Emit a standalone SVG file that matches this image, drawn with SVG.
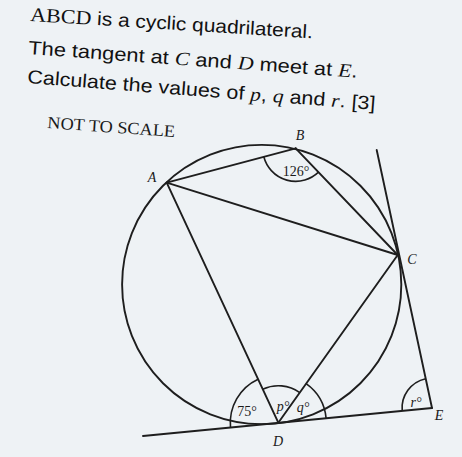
<svg xmlns="http://www.w3.org/2000/svg" width="462" height="457" viewBox="0 0 462 457">
<style>
.body{font-family:"Liberation Sans","Noto Sans",sans-serif;font-size:19px;fill:#111}
.it{font-family:"Liberation Serif",serif;font-style:italic}
.lbl{font-family:"Liberation Serif",serif;font-style:italic;font-size:14px;fill:#1a1a1a;text-anchor:middle}
.ang{font-family:"Liberation Serif",serif;font-size:14px;fill:#1a1a1a;text-anchor:middle}
.ln{stroke:#1e1e1e;stroke-width:1.9;fill:none;stroke-linecap:round}
.arc{stroke:#1e1e1e;stroke-width:1.6;fill:none}
</style>
<rect width="462" height="457" fill="#eef2f5"/>
<g id="header">
<text class="body" x="30" y="21" transform="rotate(3.5 30 21)" textLength="283" lengthAdjust="spacingAndGlyphs"><tspan font-family="Liberation Serif" font-size="20">ABCD</tspan> is a cyclic quadrilateral.</text>
<text class="body" x="28" y="54" transform="rotate(4.1 28 54)" textLength="330" lengthAdjust="spacingAndGlyphs">The tangent at <tspan class="it">C</tspan> and <tspan class="it">D</tspan> meet at <tspan class="it">E</tspan>.</text>
<text class="body" x="27" y="83" transform="rotate(4.4 27 83)" textLength="349" lengthAdjust="spacingAndGlyphs">Calculate the values of <tspan class="it">p</tspan>, <tspan class="it">q</tspan> and <tspan class="it">r</tspan>. [3]</text>
<text x="47" y="128" transform="rotate(4 47 128)" font-family="Liberation Serif" font-size="17" fill="#1a1a1a" textLength="128" lengthAdjust="spacingAndGlyphs">NOT TO SCALE</text>
</g>
<g id="circle"><circle class="ln" cx="261.7" cy="284.5" r="139.6"/></g>
<g id="connectors">
<line class="ln" x1="166.7" y1="182.7" x2="295.7" y2="148.3"/>
<line class="ln" x1="295.7" y1="148.3" x2="397.7" y2="255"/>
<line class="ln" x1="166.7" y1="182.7" x2="397.7" y2="255"/>
<line class="ln" x1="166.7" y1="182.7" x2="278.3" y2="422.7"/>
<line class="ln" x1="397.7" y1="255" x2="278.3" y2="422.7"/>
<line class="ln" x1="376.7" y1="150" x2="432" y2="408"/>
<line class="ln" x1="143" y1="436" x2="432" y2="408"/>
</g>
<g id="angle-B">
<path class="arc" d="M263.8,156.8 A33,33 0 0 0 318.5,172.2"/>
<text class="ang" x="296" y="176">126°</text>
</g>
<g id="angles-D">
<path class="arc" d="M230.5,427.3 A48,48 0 0 1 258.1,379.2"/>
<path class="arc" d="M262.7,389.2 A37,37 0 0 1 299.8,392.6"/>
<path class="arc" d="M306.1,383.6 A48,48 0 0 1 326.1,418.1"/>
<text class="ang" x="247" y="416">75°</text>
<text class="ang" x="283" y="411" font-style="italic">p°</text>
<text class="ang" x="303" y="412" font-style="italic">q°</text>
</g>
<g id="angle-E">
<path class="arc" d="M402.2,410.9 A30,30 0 0 1 425.7,378.7"/>
<text class="ang" x="416" y="407" font-style="italic">r°</text>
</g>
<g id="A"><text class="lbl" x="152" y="182">A</text></g>
<g id="B"><text class="lbl" x="300" y="140">B</text></g>
<g id="C"><text class="lbl" x="412" y="264">C</text></g>
<g id="D"><text class="lbl" x="278" y="446">D</text></g>
<g id="E"><text class="lbl" x="439" y="420">E</text></g>
</svg>
